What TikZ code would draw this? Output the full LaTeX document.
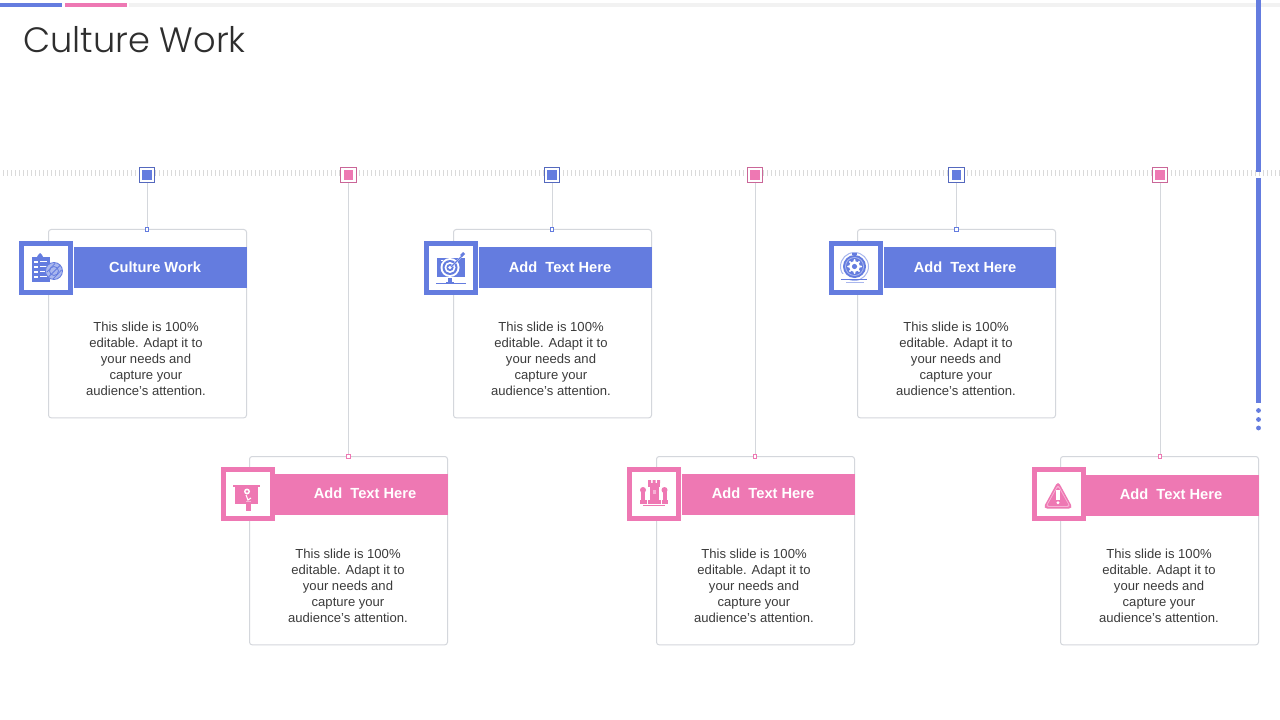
\documentclass[tikz,border=0pt]{standalone}
\usepackage{fontspec}
\usetikzlibrary{calc}
\setmainfont{Liberation Sans}
\newfontfamily\titlefont[UprightFont=* Light]{Poppins}
\definecolor{bluec}{HTML}{647CDF}
\definecolor{pinkc}{HTML}{EE78B3}
\definecolor{bluel}{HTML}{A9B7EE}
\definecolor{pinkl}{HTML}{F6B3D5}
\definecolor{edgec}{HTML}{D4D7DC}
\definecolor{barc}{HTML}{F2F2F2}
\definecolor{tickc}{HTML}{DADADA}
\definecolor{inkc}{HTML}{3B3B3B}
\tikzset{
  cardbox/.style={draw=edgec,line width=.75pt,fill=white,rounded corners=2pt,minimum width=148.5pt,minimum height=141.25pt,inner sep=0pt,outer sep=0pt},
  headbox/.style={fill=#1,minimum width=129.4pt,minimum height=30.75pt,inner sep=0pt,outer sep=0pt},
  headtext/.style={text=white,inner sep=0pt,font=\fontsize{11}{13}\selectfont\bfseries},
  iconbox/.style={draw=#1,line width=3.9pt,fill=white,minimum width=36.6pt,minimum height=36.6pt,inner sep=0pt},
  railmark/.style={draw=#1!85!black,line width=.75pt,fill=white,minimum width=11.3pt,minimum height=11.3pt,inner sep=0pt},
  railcore/.style={fill=#1,minimum width=6.8pt,minimum height=6.8pt,inner sep=0pt},
  tinymark/.style={draw=#1,line width=.5pt,fill=white,minimum width=2.6pt,minimum height=2.6pt,inner sep=0pt},
  linkline/.style={draw=edgec,line width=.75pt},
  bodytext/.style={align=center,inner sep=0pt,text=inkc,font=\fontsize{9.8}{12}\selectfont},
}
% #1 id, #2 colour, #3 rail x, #4 card left, #5 card top, #6 icon left, #7 icon top
\newcommand{\cardunit}[7]{%
  \node[railmark=#2] (rail#1) at (#3,175) {};
  \node[railcore=#2] (core#1) at (#3,175) {};
  \node[cardbox,anchor=north west] (card#1) at (#4,#5) {};
  \node[tinymark=#2] (tiny#1) at (#3,#5) {};
  \draw[linkline] (rail#1.south) -- (tiny#1.north);
  \node[iconbox=#2,anchor=north west] (icon#1) at (#6,#7) {};
}
\begin{document}
\begin{tikzpicture}[x=.75pt,y=-.75pt]
\useasboundingbox (0,0) rectangle (1280,720);
\fill[white] (0,0) rectangle (1280,720);
% top bars
\fill[barc] (129,3) rectangle (1280,7.5);
\fill[bluec] (0,3) rectangle (62,7.5);
\fill[pinkc] (65,3) rectangle (127,7.5);
% rail
\draw[tickc,line width=4.5pt,dash pattern=on .75pt off 2.25pt] (3,173.5) -- (1280,173.5);
% right bar
\fill[bluec] (1256,0) rectangle (1261,172);
\fill[bluec] (1256,178) rectangle (1261,403);
\fill[bluec] (1258.5,410.5) circle (2.4);
\fill[bluec] (1258.5,419.5) circle (2.4);
\fill[bluec] (1258.5,428) circle (2.4);
% title
\node[anchor=west,inner sep=0pt,text=black!82,font=\titlefont\fontsize{26.4}{32}\selectfont] (title) at (23,40) {Culture Work};

% cards
\cardunit{a}{bluec}{147}{48.5}{229.5}{19}{241}
\cardunit{b}{pinkc}{348.5}{249.5}{456.5}{221}{467}
\cardunit{c}{bluec}{552}{453.5}{229.5}{424}{241}
\cardunit{d}{pinkc}{755}{656.5}{456.5}{627}{467}
\cardunit{e}{bluec}{956.5}{857.5}{229.5}{829}{241}
\cardunit{f}{pinkc}{1160}{1060.5}{456.5}{1032}{467}

% headers
\node[headbox=bluec,anchor=north west] (heada) at (74,247) {};
\node[headtext] (headat) at (155,267.5) {Culture Work};
\node[headbox=bluec,anchor=north west] (headc) at (479,247) {};
\node[headtext] (headct) at (560,267.5) {Add\ \ Text Here};
\node[headbox=bluec,anchor=north west] (heade) at (883.5,247) {};
\node[headtext] (headet) at (965,267.5) {Add\ \ Text Here};
\node[headbox=pinkc,anchor=north west] (headb) at (275,474) {};
\node[headtext] (headbt) at (365,493.5) {Add\ \ Text Here};
\node[headbox=pinkc,anchor=north west] (headd) at (682,474) {};
\node[headtext] (headdt) at (763,493.5) {Add\ \ Text Here};
\node[headbox=pinkc,anchor=north west] (headf) at (1086,474.5) {};
\node[headtext] (headft) at (1171,494.5) {Add\ \ Text Here};

% body text
\foreach \nm/\tx/\ty in {a/146/358.8,c/551/358.8,e/956/358.8,b/348/585.8,d/754/585.8,f/1159/585.8}{
  \node[bodytext] (body\nm) at (\tx,\ty) {This slide is 100\%\\editable. Adapt it to\\your needs and\\capture your\\audience's attention.};
}

% icon a: clipboard
\fill[bluec] (32,257) rectangle (50,282);
\fill[bluec] (37,257) -- (38,255) -- (40,253) -- (42,255) -- (43,257) -- cycle;
\foreach \yy in {261,266,271,276}{
  \fill[white] (34,\yy) rectangle (38,\yy+1.6);
  \fill[white] (39.5,\yy) rectangle (47,\yy+1);
}
\fill[bluel] (54,271) circle (8.5);
\draw[bluec,line width=.6pt] (54,271) circle (8.5);
\draw[bluec,line width=.6pt] (54,271) circle (4.5);
\draw[bluec,line width=.6pt] (48.5,277) -- (60,265.5);
\draw[bluec,line width=.6pt] (47,272) -- (55,263.5);
\draw[bluec,line width=.6pt] (53,279) -- (61.5,270);

% icon c: monitor with target
\fill[bluec] (437,258) rectangle (465,277);
\fill[white] (441,260) rectangle (443,260.8);
\foreach \rr/\cc in {9.5/white,7.5/bluec,5.5/white,3.6/bluec,1.8/white}{\fill[\cc] (450,267.5) circle (\rr);}
\draw[white,line width=1.3pt] (451,267) -- (462,256);
\draw[bluec,line width=.9pt] (451,267) -- (462,256);
\fill[bluec] (460,255) -- (463,252) -- (465,254) -- (462,257) -- cycle;
\fill[bluec] (448,278) rectangle (452,282);
\draw[bluec,line width=.75pt] (436,283) -- (466,283);
\fill[bluec] (446,281.5) rectangle (454,284);

% icon e: stopwatch with gear
\draw[bluel,line width=.75pt] (854.5,266.5) circle (14);
\fill[white] (841,274) rectangle (849,283);
\fill[bluec] (854.5,266.5) circle (11.5);
\fill[bluel] (854.5,266.5) circle (9.5);
\fill[bluec] (854.5,266.5) circle (8.5);
\foreach \aa in {0,45,...,315}{\fill[white] ($(854.5,266.5)+(\aa:6.3)$) circle (1.2);}
\fill[white] (854.5,266.5) circle (5.6);
\fill[bluec] (854.5,266.5) circle (2.6);
\fill[bluec] (852,252.5) rectangle (857,254.5);
\draw[bluec,line width=.5pt] (841,279.5) -- (867,279.5);
\draw[bluel,line width=.5pt] (846,282) -- (864,282);

% icon b: board with figure
\fill[pinkc] (233,485) rectangle (260,487);
\fill[pinkc] (235,487) rectangle (258,504);
\fill[white] (247,491.5) circle (3);
\fill[pinkc] (247,491.5) circle (1.4);
\draw[white,line width=.8pt] (246,495) -- (248,500) -- (251,498);
\fill[pinkc] (246,501) rectangle (251,510.5);
\draw[pinkl,line width=.6pt] (246,501) -- (251,501);

% icon d: rook and pawns
\fill[pinkc] (648,480) rectangle (651,483) (652.5,480) rectangle (655.5,483) (657,480) rectangle (660,483);
\fill[pinkc] (648,483) rectangle (660,487);
\fill[pinkc] (649.5,487) rectangle (658.5,500);
\fill[pinkl] (652.5,490) rectangle (655.5,494);
\fill[pinkc] (647.5,500) rectangle (660.5,504);
\fill[pinkc] (643,490) circle (3);
\fill[pinkc] (641,491) rectangle (645,500);
\fill[pinkc] (640,500) rectangle (646.5,504);
\fill[pinkc] (664.5,490) circle (3);
\fill[pinkc] (662.5,491) rectangle (666.5,500);
\fill[pinkc] (661.5,500) rectangle (668,504);
\fill[pinkc] (643,505) rectangle (665,506.2);

% icon f: warning triangle
\fill[pinkc,rounded corners=3pt] (1058,481) -- (1073,508.5) -- (1043,508.5) -- cycle;
\fill[pinkl,rounded corners=2pt] (1058,484.5) -- (1070.5,506.8) -- (1045.5,506.8) -- cycle;
\fill[pinkc,rounded corners=1.5pt] (1058,486.5) -- (1069,505.8) -- (1047,505.8) -- cycle;
\fill[white] (1056.4,490) rectangle (1059.6,500);
\fill[white] (1058,502.8) circle (1.6);
\end{tikzpicture}
\end{document}
